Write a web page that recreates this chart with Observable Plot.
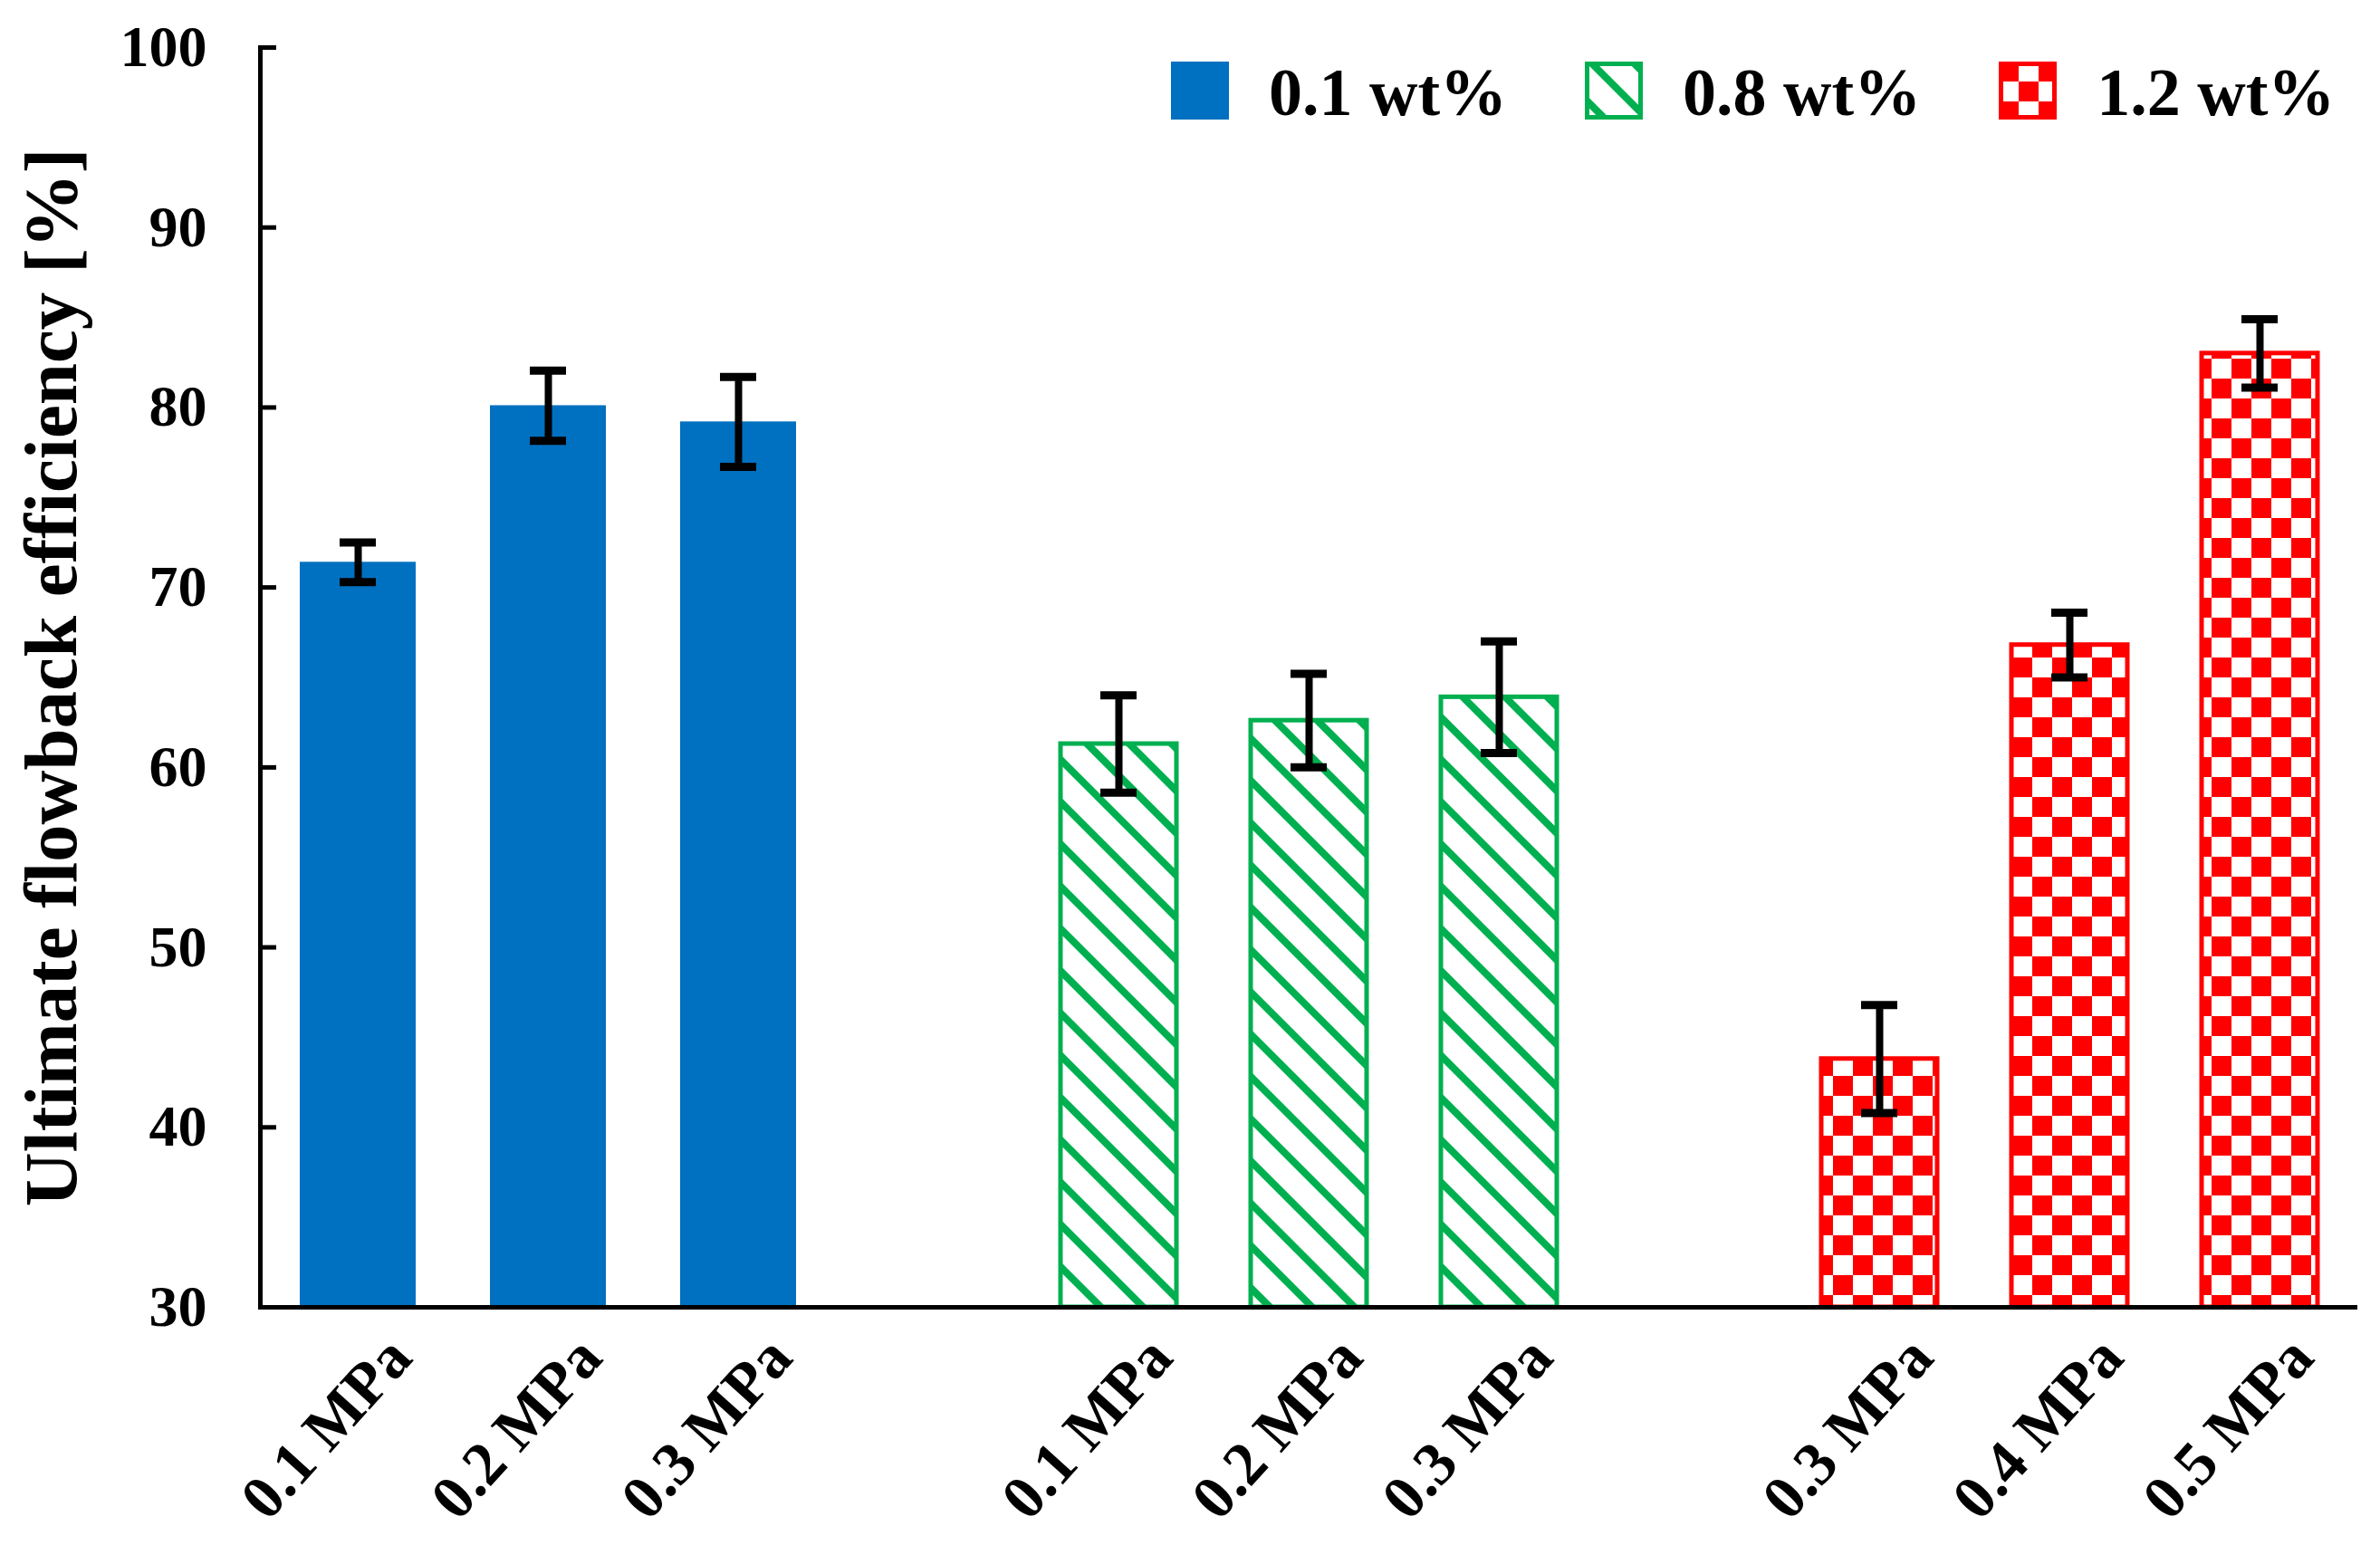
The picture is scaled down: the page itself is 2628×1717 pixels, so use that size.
<!DOCTYPE html>
<html>
<head>
<meta charset="utf-8">
<script src="https://cdn.jsdelivr.net/npm/d3@7"></script>
<script src="https://cdn.jsdelivr.net/npm/@observablehq/plot@0.6"></script>
<style>
  html, body { margin: 0; padding: 0; background: #fff; }
  #wrap { position: relative; width: 2628px; height: 1717px; }
  #legend { position: absolute; left: 1293px; top: 68px; display: flex; align-items: center; gap: 86px;
            font-family: "Liberation Serif", "Times New Roman", serif; font-weight: bold; font-size: 74px; color: #000; }
  .item { display: flex; align-items: center; gap: 44px; white-space: nowrap; }
  .item svg { display: block; }
  .item span { line-height: 64px; position: relative; top: 2px; }
</style>
</head>
<body>
<div id="wrap"><div id="legend"></div></div>
<script>
// ---- data ----
const groups = ["0.1 wt%", "0.8 wt%", "1.2 wt%"];
const pressures = [
  ["0.1 MPa", "0.2 MPa", "0.3 MPa"],
  ["0.1 MPa", "0.2 MPa", "0.3 MPa"],
  ["0.3 MPa", "0.4 MPa", "0.5 MPa"]
];
const efficiency = [
  [71.4, 80.1, 79.2],
  [61.3, 62.6, 63.9],
  [43.8, 66.8, 83.0]
];
const errors = [
  [1.1, 1.95, 2.5],
  [2.7, 2.6, 3.1],
  [3.0, 1.8, 1.9]
];
const yTicks = [30, 40, 50, 60, 70, 80, 90, 100];
const yLabel = "Ultimate flowback efficiency [%]";

// ---- build table ----
const ids = [];
const rows = [];
groups.forEach((g, gi) => {
  if (gi > 0) ids.push("gap" + gi);
  pressures[gi].forEach((p, pi) => {
    const id = g + "|" + p;
    ids.push(id);
    rows.push({id, group: g, pressure: p, value: efficiency[gi][pi], err: errors[gi][pi]});
  });
});

const FONT = "'Liberation Serif', 'Times New Roman', serif";

function patternDefs(prefix) {
  return `<defs>
    <pattern id="${prefix}stripes" patternUnits="userSpaceOnUse" width="33" height="33" patternTransform="rotate(-45)">
      <rect width="33" height="33" fill="#fff"/>
      <rect x="0" y="0" width="8" height="33" fill="#00B050"/>
    </pattern>
    <pattern id="${prefix}checker" patternUnits="userSpaceOnUse" width="44" height="44">
      <rect width="44" height="44" fill="#fff"/>
      <rect x="0" y="0" width="22" height="22" fill="#FF0000"/>
      <rect x="22" y="22" width="22" height="22" fill="#FF0000"/>
    </pattern>
  </defs>`;
}

function defsMark() {
  const g = document.createElementNS("http://www.w3.org/2000/svg", "g");
  g.innerHTML = patternDefs("p");
  return g;
}

const capOpts = {x: "id", stroke: "#000", strokeWidth: 9, insetLeft: 44, insetRight: 44};

const chart = Plot.plot({
  width: 2628,
  height: 1717,
  marginLeft: 287,
  marginRight: 25,
  marginTop: 52,
  marginBottom: 274,
  style: {fontFamily: FONT, fontWeight: "bold", color: "#000", background: "#fff"},
  x: {domain: ids, paddingInner: 0.39, paddingOuter: 0.195, axis: null},
  y: {domain: [30, 100], axis: null, label: null},
  marks: [
    defsMark,
    Plot.barY(rows.filter(d => d.group === groups[0]), {x: "id", y1: 30, y2: "value", fill: "#0070C0"}),
    Plot.barY(rows.filter(d => d.group === groups[1]), {x: "id", y1: 30, y2: "value", fill: "url(#pstripes)", stroke: "#00B050", strokeWidth: 5}),
    Plot.barY(rows.filter(d => d.group === groups[2]), {x: "id", y1: 30, y2: "value", fill: "url(#pchecker)", stroke: "#FF0000", strokeWidth: 5}),
    Plot.ruleX(rows, {x: "id", y1: d => d.value - d.err, y2: d => d.value + d.err, stroke: "#000", strokeWidth: 8}),
    Plot.tickY(rows, {...capOpts, y: d => d.value + d.err}),
    Plot.tickY(rows, {...capOpts, y: d => d.value - d.err}),
    Plot.axisY({ticks: yTicks, tickSize: 0, tickPadding: 59, fontSize: 64, fontWeight: "bold", label: null}),
    Plot.axisY({ticks: yTicks, tickSize: 18, dx: 18, strokeWidth: 5, tickFormat: () => "", label: null}),
    Plot.ruleY([30], {stroke: "#000", strokeWidth: 5}),
    Plot.frame({anchor: "left", stroke: "#000", strokeWidth: 5}),
    Plot.text(rows, {x: "id", frameAnchor: "bottom", text: "pressure", rotate: -48, textAnchor: "end",
                     lineAnchor: "bottom", dx: 62, dy: 58, fontSize: 68, fontWeight: "bold", fill: "#000"}),
    Plot.text([yLabel], {frameAnchor: "left", rotate: -90, dx: -262, lineAnchor: "top", textAnchor: "middle",
                         fontSize: 83, fontWeight: "bold", fill: "#000"})
  ]
});
chart.style.position = "absolute";
chart.style.left = "0";
chart.style.top = "0";
document.getElementById("wrap").prepend(chart);

// ---- legend (HTML) ----
const swatches = [
  `<rect x="0" y="0" width="64" height="64" fill="#0070C0"/>`,
  `<rect x="2.5" y="2.5" width="59" height="59" fill="url(#lstripes)" stroke="#00B050" stroke-width="5"/>`,
  `<rect x="2.5" y="2.5" width="59" height="59" fill="url(#lchecker)" stroke="#FF0000" stroke-width="5"/>`
];
const legend = document.getElementById("legend");
groups.forEach((g, i) => {
  const item = document.createElement("div");
  item.className = "item";
  item.innerHTML = `<svg width="64" height="64" viewBox="0 0 64 64">${patternDefs("l")}${swatches[i]}</svg><span>${g}</span>`;
  legend.appendChild(item);
});
</script>
</body>
</html>
